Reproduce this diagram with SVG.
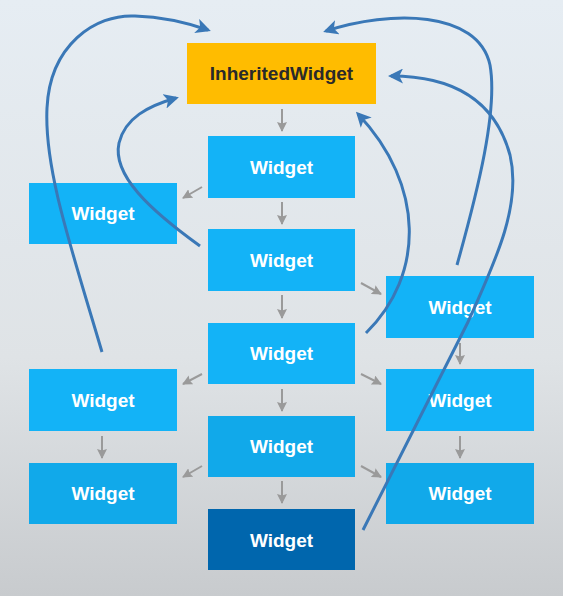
<svg xmlns="http://www.w3.org/2000/svg" width="563" height="596" viewBox="0 0 563 596">
<defs>
<linearGradient id="bg" x1="0" y1="0" x2="0" y2="1">
<stop offset="0" stop-color="#e6edf3"/>
<stop offset="0.6" stop-color="#dfe3e6"/>
<stop offset="1" stop-color="#c8cbce"/>
</linearGradient>
<marker id="ga" viewBox="0 0 10 10" refX="9" refY="5" markerWidth="5" markerHeight="5" orient="auto" markerUnits="strokeWidth">
<path d="M0,0 L10,5 L0,10 L1.5,5 Z" fill="#9a9a9a"/>
</marker>
<marker id="ba" viewBox="0 0 10 10" refX="8" refY="5" markerWidth="5" markerHeight="5" orient="auto" markerUnits="strokeWidth">
<path d="M0,0 L10,5 L0,10 L2.5,5 Z" fill="#3a78b7"/>
</marker>
<style>
.w rect{fill:#13b3f7}
.w2 rect{fill:#11a9ea}
.w text,.w2 text,.d text{font-family:"Liberation Sans",Arial,sans-serif;font-weight:bold;font-size:19px;fill:#ffffff;text-anchor:middle}
.d rect{fill:#0066ad}
.g{stroke:#9a9a9a;stroke-width:2;fill:none;marker-end:url(#ga)}
.b{stroke:#3a78b7;stroke-width:3;fill:none;marker-end:url(#ba)}
</style>
</defs>
<rect width="563" height="596" fill="url(#bg)"/>

<g id="inherited">
<rect x="187" y="43" width="189" height="61" fill="#ffbc00"/>
<text x="281.5" y="80" font-family="Liberation Sans,Arial,sans-serif" font-weight="bold" font-size="19" fill="#2a2a2a" text-anchor="middle">InheritedWidget</text>
</g>

<g id="c1" class="w"><rect x="208" y="136" width="147" height="62"/><text x="281.5" y="173.5">Widget</text></g>
<g id="l1" class="w"><rect x="29" y="183" width="148" height="61"/><text x="103" y="220">Widget</text></g>
<g id="c2" class="w"><rect x="208" y="229" width="147" height="62"/><text x="281.5" y="266.5">Widget</text></g>
<g id="r1" class="w"><rect x="386" y="276" width="148" height="62"/><text x="460" y="313.5">Widget</text></g>
<g id="c3" class="w"><rect x="208" y="323" width="147" height="61"/><text x="281.5" y="360">Widget</text></g>
<g id="l2" class="w"><rect x="29" y="369" width="148" height="62"/><text x="103" y="406.5">Widget</text></g>
<g id="r2" class="w"><rect x="386" y="369" width="148" height="62"/><text x="460" y="406.5">Widget</text></g>
<g id="c4" class="w2"><rect x="208" y="416" width="147" height="61"/><text x="281.5" y="453">Widget</text></g>
<g id="l3" class="w2"><rect x="29" y="463" width="148" height="61"/><text x="103" y="500">Widget</text></g>
<g id="r3" class="w2"><rect x="386" y="463" width="148" height="61"/><text x="460" y="500">Widget</text></g>
<g id="c5" class="d"><rect x="208" y="509" width="147" height="61"/><text x="281.5" y="546.5">Widget</text></g>

<g id="connectors">
<line class="g" x1="282" y1="109" x2="282" y2="131"/>
<line class="g" x1="282" y1="202" x2="282" y2="224"/>
<line class="g" x1="282" y1="295" x2="282" y2="318"/>
<line class="g" x1="282" y1="389" x2="282" y2="411"/>
<line class="g" x1="282" y1="481" x2="282" y2="503"/>
<line class="g" x1="102" y1="436" x2="102" y2="458"/>
<line class="g" x1="460" y1="343" x2="460" y2="364"/>
<line class="g" x1="460" y1="436" x2="460" y2="458"/>
<line class="g" x1="202" y1="187" x2="183" y2="198"/>
<line class="g" x1="361" y1="283" x2="381" y2="294"/>
<line class="g" x1="202" y1="374" x2="183" y2="384"/>
<line class="g" x1="361" y1="374" x2="381" y2="384"/>
<line class="g" x1="202" y1="466" x2="183" y2="477"/>
<line class="g" x1="361" y1="466" x2="381" y2="477"/>

<path class="b" d="M102,352 C72,250 44,170 47,108 C50,45 95,14 135,16 C165,17 188,23 208,30"/>
<path class="b" d="M200,246 C150,210 112,175 119,143 C125,118 148,106 176,98"/>
<path class="b" d="M366,333 C425,275 425,185 358,114"/>
<path class="b" d="M457,265 C478,190 498,110 490,65 C478,10 390,10 326,31"/>
<path class="b" d="M363,530 L468,322 C495,262 522,205 510,155 C495,100 452,76 391,76"/>
</g>
</svg>
